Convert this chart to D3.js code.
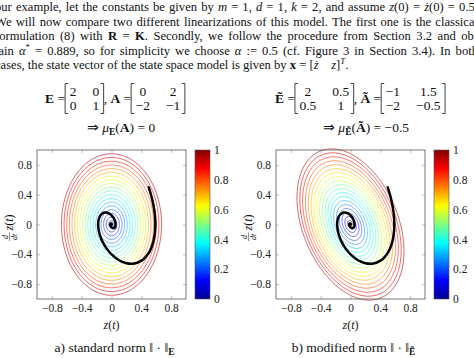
<!DOCTYPE html>
<html><head><meta charset="utf-8">
<script src="https://cdn.jsdelivr.net/npm/d3@7"></script>
<style>
html,body{margin:0;padding:0;background:#fff;overflow:hidden}
svg{display:block;font-family:"Liberation Serif","Times New Roman",serif;fill:#111}
</style></head><body>
<svg id="fig" width="474" height="358"></svg>
<script>
// ---------- data ----------
const paragraph = [
  [["our example, let the constants be given by ",""],["m","i"],[" = 1, ",""],["d","i"],[" = 1, ",""],["k","i"],[" = 2, and assume ",""],["z","i"],["(0) = ",""],["ż","i"],["(0) = 0.5.",""]],
  [["We will now compare two different linearizations of this model. The first one is the classical",""]],
  [["formulation (8) with ",""],["R","b"],[" = ",""],["K","b"],[". Secondly, we follow the procedure from Section 3.2 and ob-",""]],
  [["tain ",""],["α","i"],["*","sup"],[" = 0.889, so for simplicity we choose ",""],["α","i"],[" := 0.5 (cf. Figure 3 in Section 3.4). In both",""]],
  [["cases, the state vector of the state space model is given by ",""],["x","b"],[" = [",""],["ż","i"],["\u2003",""],["z","i"],["]",""],["T","i sup"],[".",""]]
];
const justified = [true, true, true, true, false];

const matE  = [["2","0"],["0","1"]];
const matA  = [["0","2"],["−2","−1"]];
const matEt = [["2","0.5"],["0.5","1"]];
const matAt = [["−1","1.5"],["−2","−0.5"]];

// quadratic forms of the norms, in (z, dz/dt) coordinates
const normStd = [[2,0],[0,1]];
const normMod = [[2,0.5],[0.5,1]];

const levels = [0.05,0.10,0.15,0.20,0.25,0.30,0.35,0.40,0.45,0.50,0.55,0.60,0.65,0.70,0.75,0.80,0.85,0.90,0.95];

// trajectory (z, dz/dt)
const trajZ  = [0.5,0.5426,0.5708,0.5855,0.5877,0.5785,0.5592,0.5310,0.4956,0.4540,0.4078,0.3065,0.2016,0.1012,0.0115,-0.0625,-0.1191,-0.1561,-0.1750,-0.1791,-0.1686,-0.1482,-0.1210,-0.0895,-0.0575,-0.0269,-0.0001,0.0216,0.0379,0.0487,0.0539,0.0544,0.0508,0.0442,0.0356,0.0261,0.0163,0.0072,-0.0008,-0.0074,-0.0121,-0.0166,-0.0153,-0.0105,-0.0046,0.0006,0.0043,0.0050,0.0013,-0.0015,0];
const trajDZ = [0.5,0.3529,0.2131,0.0826,-0.0371,-0.1447,-0.2393,-0.3209,-0.3872,-0.4409,-0.4811,-0.5231,-0.5197,-0.4795,-0.4120,-0.3272,-0.2337,-0.1409,-0.0547,0.0211,0.0788,0.1225,0.1485,0.1601,0.1575,0.1440,0.1225,0.0962,0.0679,0.0396,0.0136,-0.0086,-0.0262,-0.0388,-0.0462,-0.0490,-0.0477,-0.0432,-0.0365,-0.0282,-0.0196,-0.0032,0.0085,0.0142,0.0144,0.0108,0.0043,-0.0013,-0.0044,-0.0008,0];

const axisTicks = [-0.8,-0.4,0,0.4,0.8];
const cbarTicks = [0,0.2,0.4,0.6,0.8,1];

// ---------- helpers ----------
const svg = d3.select("#fig");
const jetStops = [0,0.125,0.375,0.625,0.875,1];
const jet = d3.scaleLinear().domain(jetStops)
  .range(["#000090","#0000ff","#00ffff","#ffff00","#ff0000","#800000"]);

function richText(parent, x, y, segs, size, anchor) {
  const t = parent.append("text").attr("x", x).attr("y", y)
    .attr("font-size", size).attr("text-anchor", anchor || "start");
  let shift = 0;
  segs.forEach(([s, st]) => {
    const tok = st.split(" ");
    let target = 0, fs = size;
    if (tok.includes("sub")) { target = size * 0.28; fs = size * 0.7; }
    if (tok.includes("sup")) { target = -size * 0.38; fs = size * 0.7; }
    const ts = t.append("tspan").text(s).attr("font-size", fs).attr("dy", target - shift);
    if (tok.includes("b")) ts.attr("font-weight", "bold");
    if (tok.includes("i")) ts.attr("font-style", "italic");
    shift = target;
  });
  return t;
}

// ---------- paragraph ----------
const baselines = [11, 25.5, 40, 54.5, 69];
const leftX = -5, rightX = 478;
paragraph.forEach((segs, i) => {
  const t = richText(svg, leftX, baselines[i], segs, 12.6);
  if (justified[i]) {
    const w = t.node().getComputedTextLength();
    const n = t.text().split(" ").length - 1;
    t.style("word-spacing", ((rightX - leftX - w) / n) + "px");
  }
});

// ---------- math displays ----------
function matrix(g, x, cy, rows, fs) {
  const ncol = rows[0].length;
  const cells = rows.map(r => r.map(s => g.append("text").text(s).attr("font-size", fs).attr("text-anchor", "middle")));
  const colW = d3.range(ncol).map(j => d3.max(cells, r => r[j].node().getComputedTextLength()));
  const pad = 4.5, gap = 16;
  let cx = x + pad;
  const centers = colW.map(w => { const c = cx + w / 2; cx += w + gap; return c; });
  const width = cx - gap + pad - x;
  cells.forEach((r, i) => r.forEach((c, j) =>
    c.attr("x", centers[j]).attr("y", cy + (i === 0 ? -7 : 7) + fs * 0.34)));
  const h = 15;
  g.append("path").attr("d", `M${x + 3},${cy - h}H${x}V${cy + h}H${x + 3}`)
    .attr("fill", "none").attr("stroke", "#111").attr("stroke-width", 0.8);
  g.append("path").attr("d", `M${x + width - 3},${cy - h}H${x + width}V${cy + h}H${x + width - 3}`)
    .attr("fill", "none").attr("stroke", "#111").attr("stroke-width", 0.8);
  return width;
}

function mathBlock(centerX, cy, pieces, fs) {
  const g = svg.append("g");
  let x = 0;
  pieces.forEach(p => {
    if (p.m) { x += matrix(g, x, cy, p.m, fs); }
    else {
      const t = richText(g, x, cy + fs * 0.34, p.t, fs);
      x += t.node().getComputedTextLength();
    }
  });
  g.attr("transform", `translate(${centerX - x / 2},0)`);
}

mathBlock(115, 98.5, [
  {t: [["E","b"],[" = ",""]]}, {m: matE},
  {t: [[", ",""],["A","b"],[" = ",""]]}, {m: matA}
], 13.5);
richText(svg, 121, 131.5, [["⇒ ",""],["μ","i"],["E","sub b"],["(",""],["A","b"],[") = 0",""]], 13.5, "middle");

mathBlock(360, 98.5, [
  {t: [["Ẽ","b"],[" = ",""]]}, {m: matEt},
  {t: [[", ",""],["Ã","b"],[" = ",""]]}, {m: matAt}
], 13.5);
richText(svg, 366, 131.5, [["⇒ ",""],["μ","i"],["Ẽ","sub b"],["(",""],["Ã","b"],[") = −0.5",""]], 13.5, "middle");

// ---------- plots ----------
const fmt = d => d === 0 ? "0" : d3.format("~g")(d).replace("-", "−");

function panel(x0, x1, cb0, norm, caption) {
  const top = 150, bot = 299;
  const x = d3.scaleLinear().domain([-1, 1]).range([x0, x1]);
  const y = d3.scaleLinear().domain([-1, 1]).range([bot, top]);
  const g = svg.append("g");

  // contours of the norm
  const ang = d3.range(0, 361, 2).map(a => a * Math.PI / 180);
  const line = d3.line().x(d => x(d[0])).y(d => y(d[1])).curve(d3.curveLinearClosed);
  levels.forEach(c => {
    const pts = ang.map(a => {
      const u = Math.cos(a), v = Math.sin(a);
      const q = norm[0][0] * u * u + 2 * norm[0][1] * u * v + norm[1][1] * v * v;
      const r = c / Math.sqrt(q);
      return [r * u, r * v];
    });
    g.append("path").attr("d", line(pts)).attr("fill", "none")
      .attr("stroke", jet(c)).attr("stroke-width", 0.7).attr("stroke-opacity", 0.85);
  });

  // trajectory
  const traj = trajZ.map((z, i) => [z, trajDZ[i]]);
  g.append("path").attr("d", d3.line().x(d => x(d[0])).y(d => y(d[1])).curve(d3.curveCatmullRom)(traj))
    .attr("fill", "none").attr("stroke", "#000").attr("stroke-width", 2.5).attr("stroke-linecap", "round");

  // axes
  const styleAxis = a => { a.select(".domain").remove(); a.selectAll(".tick line").attr("stroke", "#999").attr("stroke-width", 0.6);
    a.selectAll("text").attr("font-family", "Liberation Serif").attr("font-size", 11.5).attr("fill", "#222"); };
  g.append("g").attr("transform", `translate(0,${bot})`)
    .call(d3.axisBottom(x).tickValues(axisTicks).tickFormat(fmt).tickSizeInner(-3).tickSizeOuter(0).tickPadding(5)).call(styleAxis);
  g.append("g").attr("transform", `translate(0,${top})`)
    .call(d3.axisTop(x).tickValues(axisTicks).tickFormat("").tickSizeInner(-3).tickSizeOuter(0)).call(styleAxis);
  g.append("g").attr("transform", `translate(${x0},0)`)
    .call(d3.axisLeft(y).tickValues(axisTicks).tickFormat(fmt).tickSizeInner(-3).tickSizeOuter(0).tickPadding(5)).call(styleAxis);
  g.append("g").attr("transform", `translate(${x1},0)`)
    .call(d3.axisRight(y).tickValues(axisTicks).tickFormat("").tickSizeInner(-3).tickSizeOuter(0)).call(styleAxis);
  g.append("rect").attr("x", x0).attr("y", top).attr("width", x1 - x0).attr("height", bot - top)
    .attr("fill", "none").attr("stroke", "#555").attr("stroke-width", 0.8);

  // axis labels
  richText(g, (x0 + x1) / 2, 329, [["z","i"],["(",""],["t","i"],[")",""]], 12, "middle");
  const yl = g.append("g").attr("transform", `translate(${x0 - 28},226) rotate(-90)`);
  const fx = -15;
  yl.append("text").attr("x", fx + 4).attr("y", -1.5).attr("font-size", 8).attr("font-style", "italic").attr("text-anchor", "middle").text("d");
  yl.append("line").attr("x1", fx).attr("x2", fx + 8.5).attr("y1", 0.6).attr("y2", 0.6).attr("stroke", "#111").attr("stroke-width", 0.5);
  yl.append("text").attr("x", fx + 4.2).attr("y", 7.5).attr("font-size", 8).attr("font-style", "italic").attr("text-anchor", "middle").text("dt");
  richText(yl, fx + 10.5, 4, [["z","i"],["(",""],["t","i"],[")",""]], 12);

  // colorbar
  const cy = d3.scaleLinear().domain([0, 1]).range([bot, top]);
  const gid = "grad" + x0;
  const grad = svg.append("defs").append("linearGradient").attr("id", gid)
    .attr("x1", 0).attr("y1", 1).attr("x2", 0).attr("y2", 0);
  jetStops.forEach(s => grad.append("stop").attr("offset", s).attr("stop-color", jet(s)));
  g.append("rect").attr("x", cb0).attr("y", top).attr("width", 15).attr("height", bot - top)
    .attr("fill", `url(#${gid})`).attr("stroke", "#555").attr("stroke-width", 0.6);
  g.append("g").attr("transform", `translate(${cb0 + 15},0)`)
    .call(d3.axisRight(cy).tickValues(cbarTicks).tickFormat(fmt).tickSize(0).tickPadding(4)).call(styleAxis);

  // caption
  richText(g, (x0 + x1) / 2 + 3, 351.5, caption, 13.5, "middle");
}

panel(37, 186, 195, normStd, [["a) standard norm ‖ · ‖",""],["E","sub b"]]);
panel(276, 425, 434, normMod, [["b) modified norm ‖ · ‖",""],["Ẽ","sub b"]]);
</script>
</body></html>
